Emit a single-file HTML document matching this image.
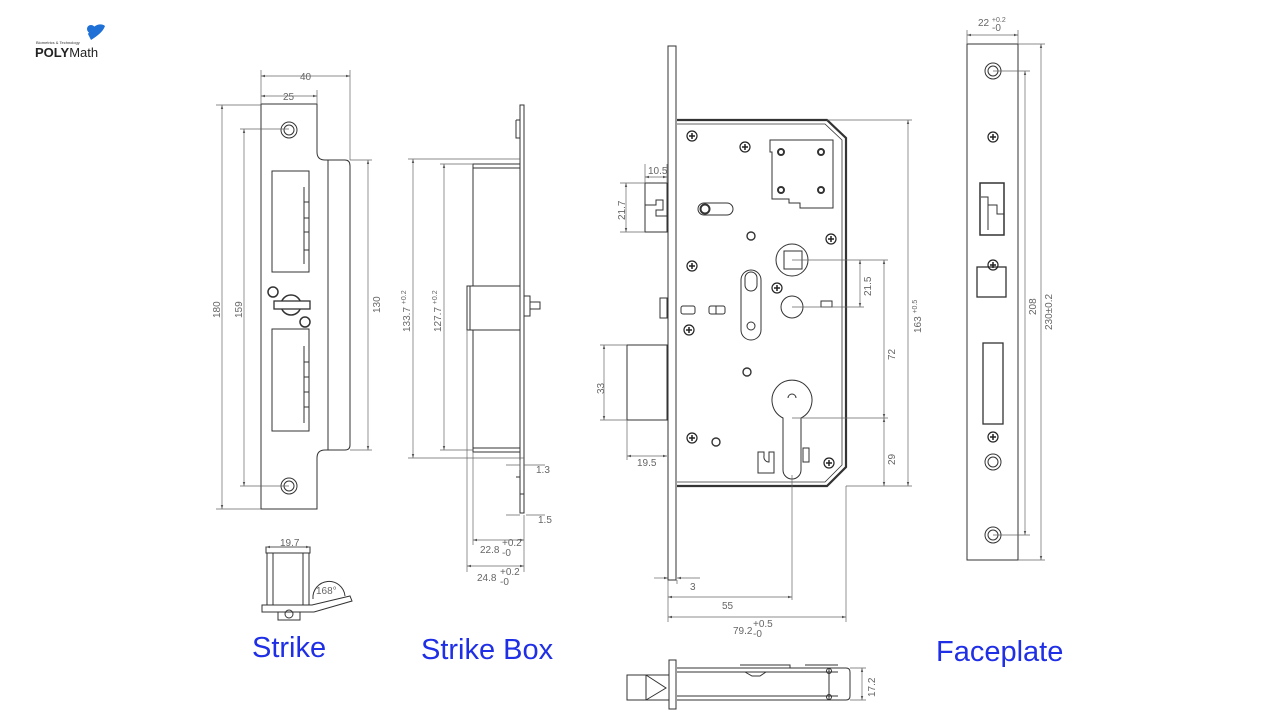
<!DOCTYPE html>
<html><head><meta charset="utf-8"><style>
html,body{margin:0;padding:0;background:#fff;width:1280px;height:720px;overflow:hidden}
svg{display:block}
.d{font-family:"Liberation Sans",sans-serif;font-size:10px;fill:#666}
.L{font-family:"Liberation Sans",sans-serif;font-size:29px;fill:#1f2fe6}
</style></head><body>
<svg width="1280" height="720" viewBox="0 0 1280 720" xmlns="http://www.w3.org/2000/svg">
<defs>
<marker id="a" viewBox="0 0 10 10" refX="10" refY="5" markerWidth="6" markerHeight="6" orient="auto-start-reverse"><path d="M0,2L10,5L0,8z" fill="#555"/></marker>
<g id="sc"><circle r="5" fill="none" stroke="#222" stroke-width="1.2"/><path d="M-3,0H3M0,-3V3" stroke="#222" stroke-width="1.5"/></g>
</defs>
<!-- logo -->
<path d="M88,34c4-8,12-12,17-8c-2,6-8,10-14,14z" fill="#1e6fd6"/>
<circle cx="91" cy="29" r="4" fill="#1e6fd6"/>
<text x="36" y="44" font-family="Liberation Sans,sans-serif" font-size="4" fill="#333">Biometrics &amp; Technology</text>
<text x="35" y="57" font-family="Liberation Sans,sans-serif" font-size="13" font-weight="bold" fill="#222">POLY<tspan font-weight="normal">Math</tspan></text>

<g fill="none" stroke="#333" stroke-width="1">
<!-- STRIKE -->
<path d="M261,104H317V152Q317,160 325,160H345Q350,160 350,166V445Q350,450 345,450H325Q317,450 317,458V509H261Z"/>
<line x1="328" y1="160" x2="328" y2="450"/>
<circle cx="289" cy="130" r="8"/><circle cx="289" cy="130" r="5"/>
<circle cx="289" cy="486" r="8"/><circle cx="289" cy="486" r="5"/>
<path d="M272,171H309V272H272Z"/><path d="M304,187V264M304,202h5M304,218h5M304,232h5M304,250h5"/>
<path d="M272,329H309V431H272Z"/><path d="M304,346V423M304,362h5M304,377h5M304,392h5M304,407h5"/>
<circle cx="291" cy="305" r="10" stroke-width="1.5"/>
<rect x="274" y="301" width="36" height="8" fill="#fff" stroke-width="1.3"/>
<circle cx="273" cy="292" r="5" stroke-width="1.5"/><circle cx="305" cy="322" r="5" stroke-width="1.5"/>
</g>
<g stroke="#666" stroke-width="0.7" fill="none">
<line x1="261" y1="76" x2="350" y2="76" marker-start="url(#a)" marker-end="url(#a)"/>
<line x1="261" y1="96" x2="317" y2="96" marker-start="url(#a)" marker-end="url(#a)"/>
<path d="M261,70V104M350,70V160M317,90V104"/>
<line x1="222" y1="105" x2="222" y2="509" marker-start="url(#a)" marker-end="url(#a)"/>
<path d="M216,105H261M216,509H261"/>
<line x1="244" y1="129" x2="244" y2="486" marker-start="url(#a)" marker-end="url(#a)"/>
<path d="M240,129H289M240,486H289"/>
<line x1="368" y1="160" x2="368" y2="450" marker-start="url(#a)" marker-end="url(#a)"/>
<path d="M350,160H372M350,450H372"/>
</g>
<text class="d" x="300" y="80">40</text><text class="d" x="283" y="100">25</text>
<text class="d" transform="translate(220,318) rotate(-90)">180</text>
<text class="d" transform="translate(242,318) rotate(-90)">159</text>
<text class="d" transform="translate(380,313) rotate(-90)">130</text>

<!-- strike bottom view -->
<g fill="none" stroke="#333" stroke-width="1">
<rect x="266" y="547" width="44" height="6"/>
<path d="M267,553V605M273,553V605M303,553V605M309,553V605"/>
<path d="M262,605H312L350,596L352,601L314,612H262Z"/>
<path d="M278,612V620H300V612"/><circle cx="289" cy="614" r="4"/>
<path d="M313,599A16,16 0 0 1 345,596"/>
</g>
<g stroke="#666" stroke-width="0.7"><line x1="266" y1="547" x2="310" y2="547" marker-start="url(#a)" marker-end="url(#a)"/></g>
<text class="d" x="280" y="546">19.7</text>
<text class="d" x="316" y="594" font-size="8">168°</text>

<!-- STRIKE BOX -->
<g fill="none" stroke="#333" stroke-width="1">
<rect x="520" y="105" width="4" height="408"/>
<path d="M516,120h4M516,120v18h4M516,477h4v17h4"/>
<rect x="473" y="164" width="47" height="122"/><line x1="473" y1="168" x2="520" y2="168"/>
<rect x="473" y="330" width="47" height="122"/><line x1="473" y1="448" x2="520" y2="448"/>
<rect x="467" y="286" width="53" height="44"/><line x1="470" y1="286" x2="470" y2="330"/>
<rect x="524" y="296" width="6" height="20"/><rect x="530" y="302" width="10" height="7"/>
</g>
<g stroke="#666" stroke-width="0.7" fill="none">
<line x1="413" y1="159" x2="413" y2="458" marker-start="url(#a)" marker-end="url(#a)"/>
<path d="M408,159H520M408,458H524"/>
<line x1="444" y1="164" x2="444" y2="450" marker-start="url(#a)" marker-end="url(#a)"/>
<path d="M440,164H473M440,450H473"/>
<path d="M506,465H520M524,465H545M506,515H520M526,515H545M520,460V470M473,452V545M467,330V572M524,515V572"/>
<line x1="473" y1="540" x2="524" y2="540" marker-start="url(#a)" marker-end="url(#a)"/>
<line x1="467" y1="566" x2="524" y2="566" marker-start="url(#a)" marker-end="url(#a)"/>
</g>
<text class="d" transform="translate(410,332) rotate(-90)">133.7 <tspan font-size="7" dy="-4">+0.2</tspan></text>
<text class="d" transform="translate(441,332) rotate(-90)">127.7 <tspan font-size="7" dy="-4">+0.2</tspan></text>
<text class="d" x="536" y="473">1.3</text><text class="d" x="538" y="523">1.5</text>
<text class="d" x="480" y="553">22.8</text><text class="d" font-size="7" x="502" y="546">+0.2</text><text class="d" font-size="7" x="502" y="556">-0</text>
<text class="d" x="477" y="581">24.8</text><text class="d" font-size="7" x="500" y="575">+0.2</text><text class="d" font-size="7" x="500" y="585">-0</text>

<!-- MORTISE -->
<g fill="none" stroke="#333" stroke-width="1">
<rect x="668" y="46" width="8" height="534"/>
<path d="M677,120H827L846,138V467L827,486H677" stroke-width="2.2"/>
<path d="M677,124H825L842,140V465L825,482H677" stroke-width="0.8"/>
<rect x="645" y="183" width="22" height="49"/><path d="M645,205H656V200H663V210H656V216H667"/>
<rect x="660" y="298" width="7" height="20"/>
<rect x="627" y="345" width="40" height="75"/><line x1="627" y1="345" x2="627" y2="420"/>
<path d="M770,140H833V208H800V203H789V199H772V152H770Z"/>
<circle cx="781" cy="152" r="3" stroke-width="2"/><circle cx="821" cy="152" r="3" stroke-width="2"/>
<circle cx="781" cy="190" r="3" stroke-width="2"/><circle cx="821" cy="190" r="3" stroke-width="2"/>
<rect x="698" y="203" width="35" height="12" rx="6"/><circle cx="705" cy="209" r="4.5" stroke-width="2"/>
<circle cx="751" cy="236" r="4" stroke-width="1.4"/><circle cx="747" cy="372" r="4" stroke-width="1.4"/><circle cx="716" cy="442" r="4" stroke-width="1.4"/>
<circle cx="792" cy="260" r="16"/><rect x="784" y="251" width="18" height="18"/>
<circle cx="792" cy="307" r="11"/>
<rect x="821" y="301" width="11" height="6"/>
<rect x="741" y="270" width="20" height="70" rx="10"/><path d="M745,285V278A6,6 0 0 1 757,278V285A6,6 0 0 1 745,285Z"/><circle cx="751" cy="326" r="4"/>
<rect x="681" y="306" width="14" height="8" rx="2"/><rect x="709" y="306" width="16" height="8" rx="2"/><line x1="716" y1="306" x2="716" y2="314"/>
<path d="M783,418A20,20 0 1 1 801,418V470A9,9 0 0 1 783,470Z"/><path d="M788,398A4,4 0 0 1 796,398"/>
<rect x="803" y="448" width="6" height="14"/>
<path d="M758,452H764V456A5,5 0 0 0 769,462V452H774V473H758Z"/>
</g>
<use href="#sc" x="692" y="136"/><use href="#sc" x="745" y="147"/><use href="#sc" x="692" y="266"/><use href="#sc" x="831" y="239"/>
<use href="#sc" x="777" y="288"/><use href="#sc" x="689" y="330"/><use href="#sc" x="692" y="438"/><use href="#sc" x="829" y="463"/>
<g stroke="#666" stroke-width="0.7" fill="none">
<path d="M827,120H912M846,486H912M792,260H888M792,307H864M792,418H888"/>
<line x1="908" y1="120" x2="908" y2="486" marker-start="url(#a)" marker-end="url(#a)"/>
<line x1="884" y1="260" x2="884" y2="418" marker-start="url(#a)" marker-end="url(#a)"/>
<line x1="884" y1="418" x2="884" y2="486" marker-start="url(#a)" marker-end="url(#a)"/>
<line x1="860" y1="260" x2="860" y2="307" marker-start="url(#a)" marker-end="url(#a)"/>
<path d="M620,183H645M620,232H645M645,164V183M667,164V183"/>
<line x1="626" y1="183" x2="626" y2="232" marker-start="url(#a)" marker-end="url(#a)"/>
<line x1="645" y1="177" x2="667" y2="177" marker-start="url(#a)" marker-end="url(#a)"/>
<path d="M600,345H627M600,420H627M627,420V460"/>
<line x1="604" y1="345" x2="604" y2="420" marker-start="url(#a)" marker-end="url(#a)"/>
<line x1="627" y1="456" x2="667" y2="456" marker-start="url(#a)" marker-end="url(#a)"/>
<path d="M792,475V600M846,486V622M668,580V622M677,580V584"/>
<line x1="654" y1="578" x2="668" y2="578" marker-end="url(#a)"/><line x1="700" y1="578" x2="677" y2="578" marker-end="url(#a)"/>
<line x1="668" y1="597" x2="792" y2="597" marker-start="url(#a)" marker-end="url(#a)"/>
<line x1="668" y1="617" x2="846" y2="617" marker-start="url(#a)" marker-end="url(#a)"/>
</g>
<text class="d" transform="translate(921,333) rotate(-90)">163 <tspan font-size="7" dy="-4">+0.5</tspan></text>
<text class="d" transform="translate(895,360) rotate(-90)">72</text>
<text class="d" transform="translate(895,465) rotate(-90)">29</text>
<text class="d" transform="translate(871,296) rotate(-90)">21.5</text>
<text class="d" transform="translate(625,220) rotate(-90)">21.7</text>
<text class="d" x="648" y="174">10.5</text>
<text class="d" transform="translate(604,394) rotate(-90)">33</text>
<text class="d" x="637" y="466">19.5</text>
<text class="d" x="690" y="590">3</text><text class="d" x="722" y="609">55</text>
<text class="d" x="733" y="634">79.2</text><text class="d" font-size="7" x="753" y="627">+0.5</text><text class="d" font-size="7" x="753" y="637">-0</text>

<!-- bottom view -->
<g fill="none" stroke="#333" stroke-width="1">
<rect x="669" y="660" width="7" height="49"/>
<path d="M677,668H846Q850,668 850,672V696Q850,700 846,700H677"/>
<path d="M677,672H838M677,696H838M829,668V700"/>
<circle cx="829" cy="671" r="2.5"/><circle cx="829" cy="697" r="2.5"/>
<path d="M627,675H669V700H627ZM646,675L666,688L646,700M646,675V700"/>
<path d="M745,672L752,676H760L766,672"/>
<path d="M740,665H790V668M805,665H838"/>
</g>
<g stroke="#666" stroke-width="0.7"><line x1="862" y1="668" x2="862" y2="700" marker-start="url(#a)" marker-end="url(#a)"/><path d="M850,668H866M850,700H866"/></g>
<text class="d" transform="translate(875,697) rotate(-90)">17.2</text>

<!-- FACEPLATE -->
<g fill="none" stroke="#333" stroke-width="1">
<rect x="967" y="44" width="51" height="516"/>
<circle cx="993" cy="71" r="8"/><circle cx="993" cy="71" r="5"/>
<circle cx="993" cy="535" r="8"/><circle cx="993" cy="535" r="5"/>
<circle cx="993" cy="462" r="8"/><circle cx="993" cy="462" r="5"/>
<rect x="980" y="183" width="24" height="52" stroke-width="1.5"/><path d="M981,197H988V205H997V214H1004M988,205V230"/>
<rect x="977" y="267" width="29" height="30" stroke-width="1.3"/>
<rect x="983" y="343" width="20" height="81" stroke-width="1.3"/>
</g>
<use href="#sc" x="993" y="137"/><use href="#sc" x="993" y="265"/><use href="#sc" x="993" y="437"/>
<g stroke="#666" stroke-width="0.7" fill="none">
<line x1="967" y1="35" x2="1018" y2="35" marker-start="url(#a)" marker-end="url(#a)"/>
<path d="M967,30V44M1018,30V44M993,71H1030M993,535H1030M1018,44H1045M1018,560H1045"/>
<line x1="1025" y1="71" x2="1025" y2="535" marker-start="url(#a)" marker-end="url(#a)"/>
<line x1="1041" y1="44" x2="1041" y2="560" marker-start="url(#a)" marker-end="url(#a)"/>
</g>
<text class="d" x="978" y="26">22 <tspan font-size="7" dy="-4">+0.2</tspan></text><text class="d" font-size="7" x="992" y="31">-0</text>
<text class="d" transform="translate(1036,315) rotate(-90)">208</text>
<text class="d" transform="translate(1052,330) rotate(-90)">230±0.2</text>

<text class="L" x="252" y="657">Strike</text>
<text class="L" x="421" y="659">Strike Box</text>
<text class="L" x="936" y="661">Faceplate</text>
</svg>
</body></html>
